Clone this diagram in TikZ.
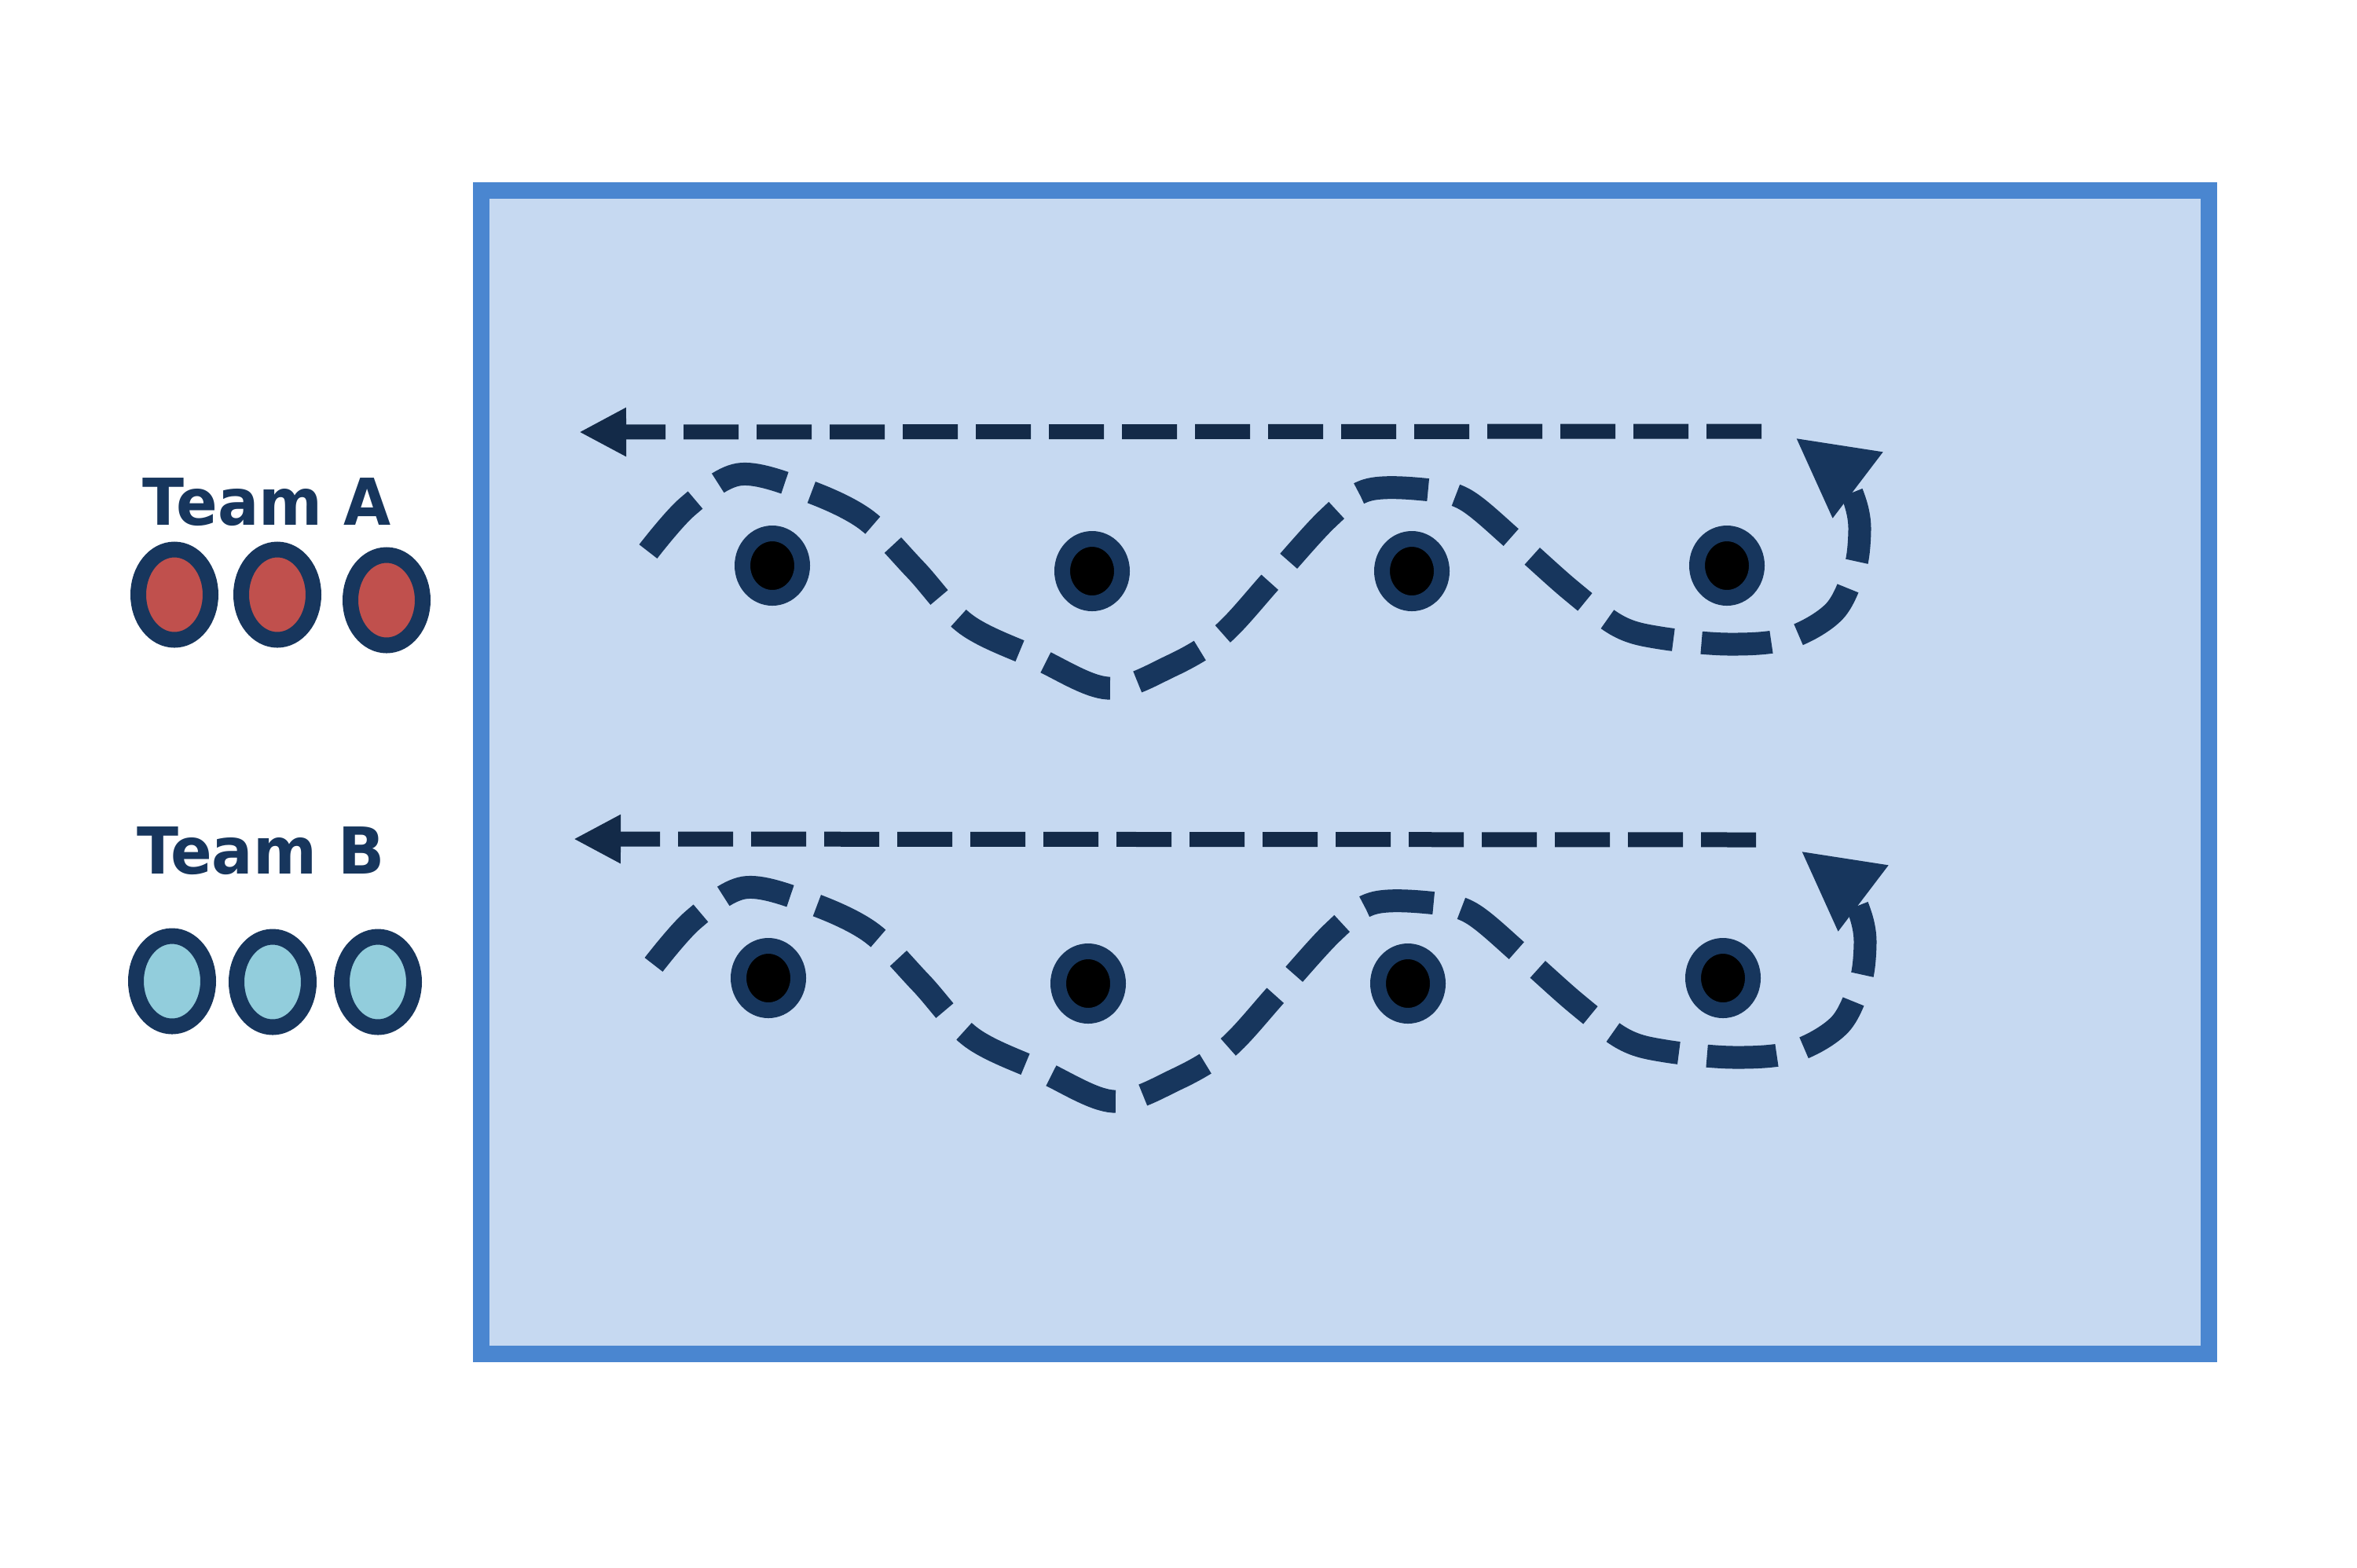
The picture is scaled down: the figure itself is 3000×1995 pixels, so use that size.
\documentclass[tikz,border=0pt]{standalone}
\usepackage{fontspec}
\setmainfont{DejaVu Sans}
\usetikzlibrary{shapes.geometric,arrows.meta}
\definecolor{navy}{HTML}{17365D}
\definecolor{linenavy}{HTML}{132A48}
\definecolor{fieldfill}{HTML}{C6D9F1}
\definecolor{fieldline}{HTML}{4A86D0}
\definecolor{redfill}{HTML}{C0504D}
\definecolor{bluefill}{HTML}{92CDDC}
\tikzset{
  player/.style={ellipse, draw=navy, line width=2mm, minimum width=9.2mm, minimum height=11.5mm, inner sep=0pt},
  cone/.style={ellipse, draw=navy, fill=black, line width=2mm, minimum width=7.6mm, minimum height=8.2mm, inner sep=0pt},
  teamlabel/.style={text=navy, font=\fontsize{23.4}{28}\selectfont\bfseries, anchor=base, inner sep=0pt, xscale=0.945},
  runline/.style={draw=linenavy, line width=1.9mm, dash pattern=on 7mm off 2.3mm, -{Triangle[length=6mm,width=5.8mm]}},
  dribble/.style={draw=navy, line width=2.9mm, dash pattern=on 8.9mm off 3.6mm, -{Triangle[length=10mm,width=9.8mm]}},
  field/.style={draw=fieldline, fill=fieldfill, line width=2.1mm},
}
\newcommand\dribblecurve[1]{%
  \coordinate (w#1s) at (825,702);
  \coordinate (w#1e) at (2367,673);
  \coordinate (w#1t) at (2285,557);
  \draw[dribble] plot[smooth, tension=0.55] coordinates {(w#1s) (875,645) (940,604) (1020,622) (1100,660) (1165,725) (1230,795) (1320,838) (1410,876) (1490,848) (1555,808) (1620,737) (1690,660) (1740,624) (1812,623) (1865,636) (1930,690) (2000,752) (2060,797) (2113,812) (2200,820) (2275,813) (2335,778) (2362,720) (w#1e)} .. controls (2367,630) and (2335,595) .. (w#1t);
}
\begin{document}
\begin{tikzpicture}[x=0.1mm, y=-0.1mm]
\useasboundingbox (0,0) rectangle (3000,1995);
% field
\path[field] (612,242) rectangle (2811,1723);
% team labels and players
\node[teamlabel] (labelA) at (340,668) {Team A};
\node[player, fill=redfill] (a1) at (222,757) {};
\node[player, fill=redfill] (a2) at (353,757) {};
\node[player, fill=redfill] (a3) at (492,764) {};
\node[teamlabel] (labelB) at (332,1112) {Team B};
\node[player, fill=bluefill] (b1) at (219,1249) {};
\node[player, fill=bluefill] (b2) at (347,1250) {};
\node[player, fill=bluefill] (b3) at (481,1250) {};
% cones
\node[cone] (ca1) at (983,720) {};
\node[cone] (ca2) at (1390,727) {};
\node[cone] (ca3) at (1797,727) {};
\node[cone] (ca4) at (2198,720) {};
\node[cone] (cb1) at (978,1245) {};
\node[cone] (cb2) at (1385,1252) {};
\node[cone] (cb3) at (1792,1252) {};
\node[cone] (cb4) at (2193,1245) {};
% straight return runs
\coordinate (rAs) at (2242,549);
\coordinate (rAe) at (737,550);
\draw[runline] (rAs) -- (rAe);
\coordinate (rBs) at (2235,1069);
\coordinate (rBe) at (730,1068);
\draw[runline] (rBs) -- (rBe);
% dribble paths
\dribblecurve{A}
\begin{scope}[shift={(7,526)}]
\dribblecurve{B}
\end{scope}
\end{tikzpicture}
\end{document}
